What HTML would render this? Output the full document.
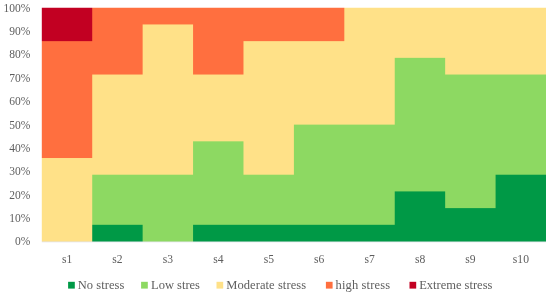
<!DOCTYPE html>
<html><head><meta charset="utf-8"><title>Stress chart</title>
<style>
html,body{margin:0;padding:0;background:#fff;}
body{width:550px;height:295px;overflow:hidden;position:relative;font-family:"Liberation Serif",serif;color:#595959;}
svg{position:absolute;left:0;top:0;display:block;}
text{font-family:"Liberation Serif",serif;fill:#5e5e5e;}
.y{font-size:11.5px;text-anchor:end;}
.x{font-size:11.6px;text-anchor:middle;}
.l{font-size:12.5px;}
</style></head><body>
<svg width="550" height="295" viewBox="0 0 550 295">
<rect x="0" y="0" width="550" height="295" fill="#ffffff"/>
<g shape-rendering="crispEdges">
<rect x="41" y="7" width="1" height="1" fill="#FCF2F4"/>
<rect x="41" y="8" width="1" height="33" fill="#F3CCD3"/>
<rect x="41" y="41" width="1" height="1" fill="#FDDFD8"/>
<rect x="41" y="42" width="1" height="116" fill="#FFE2D9"/>
<rect x="41" y="158" width="1" height="83" fill="#FFF9E7"/>
<rect x="41" y="241" width="1" height="1" fill="#FCF9F1"/>
<rect x="41" y="242" width="1" height="1" fill="#FDFDFE"/>
<rect x="42" y="7" width="50" height="1" fill="#F0BFC8"/>
<rect x="42" y="8" width="50" height="33" fill="#C20022"/>
<rect x="42" y="41" width="50" height="1" fill="#F65F3B"/>
<rect x="42" y="42" width="50" height="116" fill="#FF6F3F"/>
<rect x="42" y="158" width="50" height="1" fill="#FFDF87"/>
<rect x="42" y="159" width="50" height="82" fill="#FFE188"/>
<rect x="42" y="241" width="50" height="1" fill="#F0E2B9"/>
<rect x="42" y="242" width="50" height="1" fill="#F6F6F9"/>
<rect x="92" y="7" width="1" height="1" fill="#FCD5CD"/>
<rect x="92" y="8" width="1" height="33" fill="#F25739"/>
<rect x="92" y="41" width="1" height="1" fill="#FD6C3E"/>
<rect x="92" y="42" width="1" height="32" fill="#FF6F3F"/>
<rect x="92" y="74" width="1" height="1" fill="#FF9859"/>
<rect x="92" y="75" width="1" height="83" fill="#FFC878"/>
<rect x="92" y="158" width="1" height="16" fill="#FFE188"/>
<rect x="92" y="174" width="1" height="1" fill="#E6DF80"/>
<rect x="92" y="175" width="1" height="49" fill="#A6DB6A"/>
<rect x="92" y="224" width="1" height="1" fill="#90D166"/>
<rect x="92" y="225" width="1" height="16" fill="#38A955"/>
<rect x="92" y="241" width="1" height="1" fill="#8DC59F"/>
<rect x="92" y="242" width="1" height="1" fill="#F6F6F9"/>
<rect x="93" y="7" width="49" height="1" fill="#FFDBCF"/>
<rect x="93" y="8" width="49" height="66" fill="#FF6F3F"/>
<rect x="93" y="74" width="49" height="1" fill="#FFA461"/>
<rect x="93" y="75" width="49" height="99" fill="#FFE188"/>
<rect x="93" y="174" width="49" height="1" fill="#DEDF7D"/>
<rect x="93" y="175" width="49" height="49" fill="#8DD962"/>
<rect x="93" y="224" width="49" height="1" fill="#71CC5D"/>
<rect x="93" y="225" width="49" height="16" fill="#009946"/>
<rect x="93" y="241" width="49" height="1" fill="#71BE98"/>
<rect x="93" y="242" width="49" height="1" fill="#F6F6F9"/>
<rect x="142" y="7" width="1" height="1" fill="#FFDBCF"/>
<rect x="142" y="8" width="1" height="16" fill="#FF6F3F"/>
<rect x="142" y="24" width="1" height="1" fill="#FF864E"/>
<rect x="142" y="25" width="1" height="49" fill="#FF9859"/>
<rect x="142" y="74" width="1" height="1" fill="#FFBA6F"/>
<rect x="142" y="75" width="1" height="99" fill="#FFE188"/>
<rect x="142" y="174" width="1" height="1" fill="#DEDF7D"/>
<rect x="142" y="175" width="1" height="49" fill="#8DD962"/>
<rect x="142" y="224" width="1" height="1" fill="#7BD15E"/>
<rect x="142" y="225" width="1" height="16" fill="#33B050"/>
<rect x="142" y="241" width="1" height="1" fill="#8AC99D"/>
<rect x="142" y="242" width="1" height="1" fill="#F6F6F9"/>
<rect x="143" y="7" width="50" height="1" fill="#FFDBCF"/>
<rect x="143" y="8" width="50" height="16" fill="#FF6F3F"/>
<rect x="143" y="24" width="50" height="1" fill="#FFAE67"/>
<rect x="143" y="25" width="50" height="149" fill="#FFE188"/>
<rect x="143" y="174" width="50" height="1" fill="#DEDF7D"/>
<rect x="143" y="175" width="50" height="66" fill="#8DD962"/>
<rect x="143" y="241" width="50" height="1" fill="#B8DEA6"/>
<rect x="143" y="242" width="50" height="1" fill="#F6F6F9"/>
<rect x="193" y="7" width="1" height="1" fill="#FFDBCF"/>
<rect x="193" y="8" width="1" height="16" fill="#FF6F3F"/>
<rect x="193" y="24" width="1" height="1" fill="#FF7341"/>
<rect x="193" y="25" width="1" height="49" fill="#FF7643"/>
<rect x="193" y="74" width="1" height="1" fill="#FFA863"/>
<rect x="193" y="75" width="1" height="66" fill="#FFE188"/>
<rect x="193" y="141" width="1" height="1" fill="#B6DC70"/>
<rect x="193" y="142" width="1" height="32" fill="#94D964"/>
<rect x="193" y="174" width="1" height="1" fill="#92D964"/>
<rect x="193" y="175" width="1" height="49" fill="#8DD962"/>
<rect x="193" y="224" width="1" height="1" fill="#73CD5D"/>
<rect x="193" y="225" width="1" height="16" fill="#089D48"/>
<rect x="193" y="241" width="1" height="1" fill="#75BF99"/>
<rect x="193" y="242" width="1" height="1" fill="#F6F6F9"/>
<rect x="194" y="7" width="49" height="1" fill="#FFDBCF"/>
<rect x="194" y="8" width="49" height="66" fill="#FF6F3F"/>
<rect x="194" y="74" width="49" height="1" fill="#FFA461"/>
<rect x="194" y="75" width="49" height="66" fill="#FFE188"/>
<rect x="194" y="141" width="49" height="1" fill="#B2DC6E"/>
<rect x="194" y="142" width="49" height="82" fill="#8DD962"/>
<rect x="194" y="224" width="49" height="1" fill="#71CC5D"/>
<rect x="194" y="225" width="49" height="16" fill="#009946"/>
<rect x="194" y="241" width="49" height="1" fill="#71BE98"/>
<rect x="194" y="242" width="49" height="1" fill="#F6F6F9"/>
<rect x="243" y="7" width="1" height="1" fill="#FFDBCF"/>
<rect x="243" y="8" width="1" height="33" fill="#FF6F3F"/>
<rect x="243" y="41" width="1" height="1" fill="#FFA260"/>
<rect x="243" y="42" width="1" height="32" fill="#FFAA65"/>
<rect x="243" y="74" width="1" height="1" fill="#FFC475"/>
<rect x="243" y="75" width="1" height="66" fill="#FFE188"/>
<rect x="243" y="141" width="1" height="1" fill="#DADE7C"/>
<rect x="243" y="142" width="1" height="32" fill="#C8DD76"/>
<rect x="243" y="174" width="1" height="1" fill="#B7DC70"/>
<rect x="243" y="175" width="1" height="49" fill="#8DD962"/>
<rect x="243" y="224" width="1" height="1" fill="#71CC5D"/>
<rect x="243" y="225" width="1" height="16" fill="#009946"/>
<rect x="243" y="241" width="1" height="1" fill="#71BE98"/>
<rect x="243" y="242" width="1" height="1" fill="#F6F6F9"/>
<rect x="244" y="7" width="49" height="1" fill="#FFDBCF"/>
<rect x="244" y="8" width="49" height="33" fill="#FF6F3F"/>
<rect x="244" y="41" width="49" height="1" fill="#FFD17E"/>
<rect x="244" y="42" width="49" height="132" fill="#FFE188"/>
<rect x="244" y="174" width="49" height="1" fill="#DEDF7D"/>
<rect x="244" y="175" width="49" height="49" fill="#8DD962"/>
<rect x="244" y="224" width="49" height="1" fill="#71CC5D"/>
<rect x="244" y="225" width="49" height="16" fill="#009946"/>
<rect x="244" y="241" width="49" height="1" fill="#71BE98"/>
<rect x="244" y="242" width="49" height="1" fill="#F6F6F9"/>
<rect x="293" y="7" width="1" height="1" fill="#FFDBCF"/>
<rect x="293" y="8" width="1" height="33" fill="#FF6F3F"/>
<rect x="293" y="41" width="1" height="1" fill="#FFD17E"/>
<rect x="293" y="42" width="1" height="82" fill="#FFE188"/>
<rect x="293" y="124" width="1" height="1" fill="#FBE187"/>
<rect x="293" y="125" width="1" height="49" fill="#F4E084"/>
<rect x="293" y="174" width="1" height="1" fill="#D6DE7A"/>
<rect x="293" y="175" width="1" height="49" fill="#8DD962"/>
<rect x="293" y="224" width="1" height="1" fill="#71CC5D"/>
<rect x="293" y="225" width="1" height="16" fill="#009946"/>
<rect x="293" y="241" width="1" height="1" fill="#71BE98"/>
<rect x="293" y="242" width="1" height="1" fill="#F6F6F9"/>
<rect x="294" y="7" width="50" height="1" fill="#FFDBCF"/>
<rect x="294" y="8" width="50" height="33" fill="#FF6F3F"/>
<rect x="294" y="41" width="50" height="1" fill="#FFD17E"/>
<rect x="294" y="42" width="50" height="82" fill="#FFE188"/>
<rect x="294" y="124" width="50" height="1" fill="#D4DE7A"/>
<rect x="294" y="125" width="50" height="99" fill="#8DD962"/>
<rect x="294" y="224" width="50" height="1" fill="#71CC5D"/>
<rect x="294" y="225" width="50" height="16" fill="#009946"/>
<rect x="294" y="241" width="50" height="1" fill="#71BE98"/>
<rect x="294" y="242" width="50" height="1" fill="#F6F6F9"/>
<rect x="344" y="7" width="1" height="1" fill="#FFEEDB"/>
<rect x="344" y="8" width="1" height="33" fill="#FFBD71"/>
<rect x="344" y="41" width="1" height="1" fill="#FFDC85"/>
<rect x="344" y="42" width="1" height="82" fill="#FFE188"/>
<rect x="344" y="124" width="1" height="1" fill="#D4DE7A"/>
<rect x="344" y="125" width="1" height="99" fill="#8DD962"/>
<rect x="344" y="224" width="1" height="1" fill="#71CC5D"/>
<rect x="344" y="225" width="1" height="16" fill="#009946"/>
<rect x="344" y="241" width="1" height="1" fill="#71BE98"/>
<rect x="344" y="242" width="1" height="1" fill="#F6F6F9"/>
<rect x="345" y="7" width="49" height="1" fill="#FFF8E1"/>
<rect x="345" y="8" width="49" height="116" fill="#FFE188"/>
<rect x="345" y="124" width="49" height="1" fill="#D4DE7A"/>
<rect x="345" y="125" width="49" height="99" fill="#8DD962"/>
<rect x="345" y="224" width="49" height="1" fill="#71CC5D"/>
<rect x="345" y="225" width="49" height="16" fill="#009946"/>
<rect x="345" y="241" width="49" height="1" fill="#71BE98"/>
<rect x="345" y="242" width="49" height="1" fill="#F6F6F9"/>
<rect x="394" y="7" width="1" height="1" fill="#FFF8E1"/>
<rect x="394" y="8" width="1" height="49" fill="#FFE188"/>
<rect x="394" y="57" width="1" height="1" fill="#FAE186"/>
<rect x="394" y="58" width="1" height="66" fill="#E1DF7E"/>
<rect x="394" y="124" width="1" height="1" fill="#C2DD74"/>
<rect x="394" y="125" width="1" height="66" fill="#8DD962"/>
<rect x="394" y="191" width="1" height="1" fill="#77CF5E"/>
<rect x="394" y="192" width="1" height="32" fill="#68C85B"/>
<rect x="394" y="224" width="1" height="1" fill="#54BF57"/>
<rect x="394" y="225" width="1" height="16" fill="#009946"/>
<rect x="394" y="241" width="1" height="1" fill="#71BE98"/>
<rect x="394" y="242" width="1" height="1" fill="#F6F6F9"/>
<rect x="395" y="7" width="50" height="1" fill="#FFF8E1"/>
<rect x="395" y="8" width="50" height="49" fill="#FFE188"/>
<rect x="395" y="57" width="50" height="1" fill="#EDE082"/>
<rect x="395" y="58" width="50" height="133" fill="#8DD962"/>
<rect x="395" y="191" width="50" height="1" fill="#3AB351"/>
<rect x="395" y="192" width="50" height="49" fill="#009946"/>
<rect x="395" y="241" width="50" height="1" fill="#71BE98"/>
<rect x="395" y="242" width="50" height="1" fill="#F6F6F9"/>
<rect x="445" y="7" width="1" height="1" fill="#FFF8E1"/>
<rect x="445" y="8" width="1" height="49" fill="#FFE188"/>
<rect x="445" y="57" width="1" height="1" fill="#FCE187"/>
<rect x="445" y="58" width="1" height="16" fill="#EDE082"/>
<rect x="445" y="74" width="1" height="1" fill="#C0DD73"/>
<rect x="445" y="75" width="1" height="116" fill="#8DD962"/>
<rect x="445" y="191" width="1" height="1" fill="#80D35F"/>
<rect x="445" y="192" width="1" height="16" fill="#76CF5E"/>
<rect x="445" y="208" width="1" height="1" fill="#0D9F49"/>
<rect x="445" y="209" width="1" height="32" fill="#009946"/>
<rect x="445" y="241" width="1" height="1" fill="#71BE98"/>
<rect x="445" y="242" width="1" height="1" fill="#F6F6F9"/>
<rect x="446" y="7" width="49" height="1" fill="#FFF8E1"/>
<rect x="446" y="8" width="49" height="66" fill="#FFE188"/>
<rect x="446" y="74" width="49" height="1" fill="#CADD76"/>
<rect x="446" y="75" width="49" height="133" fill="#8DD962"/>
<rect x="446" y="208" width="49" height="1" fill="#0FA049"/>
<rect x="446" y="209" width="49" height="32" fill="#009946"/>
<rect x="446" y="241" width="49" height="1" fill="#71BE98"/>
<rect x="446" y="242" width="49" height="1" fill="#F6F6F9"/>
<rect x="495" y="7" width="1" height="1" fill="#FFF8E1"/>
<rect x="495" y="8" width="1" height="66" fill="#FFE188"/>
<rect x="495" y="74" width="1" height="1" fill="#CADD76"/>
<rect x="495" y="75" width="1" height="99" fill="#8DD962"/>
<rect x="495" y="174" width="1" height="1" fill="#7CD15F"/>
<rect x="495" y="175" width="1" height="33" fill="#52BE56"/>
<rect x="495" y="208" width="1" height="1" fill="#099D48"/>
<rect x="495" y="209" width="1" height="32" fill="#009946"/>
<rect x="495" y="241" width="1" height="1" fill="#71BE98"/>
<rect x="495" y="242" width="1" height="1" fill="#F6F6F9"/>
<rect x="496" y="7" width="50" height="1" fill="#FFF8E1"/>
<rect x="496" y="8" width="50" height="66" fill="#FFE188"/>
<rect x="496" y="74" width="50" height="1" fill="#CADD76"/>
<rect x="496" y="75" width="50" height="99" fill="#8DD962"/>
<rect x="496" y="174" width="50" height="1" fill="#65C75A"/>
<rect x="496" y="175" width="50" height="66" fill="#009946"/>
<rect x="496" y="241" width="50" height="1" fill="#71BE98"/>
<rect x="496" y="242" width="50" height="1" fill="#F6F6F9"/>
</g>
<text class="y" x="30.3" y="245.40">0%</text>
<text class="y" x="30.3" y="222.03">10%</text>
<text class="y" x="30.3" y="198.65">20%</text>
<text class="y" x="30.3" y="175.28">30%</text>
<text class="y" x="30.3" y="151.90">40%</text>
<text class="y" x="30.3" y="128.53">50%</text>
<text class="y" x="30.3" y="105.15">60%</text>
<text class="y" x="30.3" y="81.78">70%</text>
<text class="y" x="30.3" y="58.40">80%</text>
<text class="y" x="30.3" y="35.02">90%</text>
<text class="y" x="30.3" y="11.65">100%</text>
<text class="x" x="67.11" y="262.7">s1</text>
<text class="x" x="117.53" y="262.7">s2</text>
<text class="x" x="167.95" y="262.7">s3</text>
<text class="x" x="218.37" y="262.7">s4</text>
<text class="x" x="268.79" y="262.7">s5</text>
<text class="x" x="319.21" y="262.7">s6</text>
<text class="x" x="369.63" y="262.7">s7</text>
<text class="x" x="420.05" y="262.7">s8</text>
<text class="x" x="470.47" y="262.7">s9</text>
<text class="x" x="520.89" y="262.7">s10</text>
<rect x="68.1" y="281.8" width="6.7" height="6.8" fill="#009946"/>
<text class="l" x="77.8" y="288.8" letter-spacing="0.05">No stress</text>
<rect x="141.1" y="281.8" width="6.7" height="6.8" fill="#8DD962"/>
<text class="l" x="151.0" y="288.8" letter-spacing="0">Low stres</text>
<rect x="216.5" y="281.8" width="6.7" height="6.8" fill="#FFE188"/>
<text class="l" x="226.2" y="288.8" letter-spacing="0.08">Moderate stress</text>
<rect x="325.9" y="281.8" width="6.7" height="6.8" fill="#FF6F3F"/>
<text class="l" x="335.6" y="288.8" letter-spacing="0.13">high stress</text>
<rect x="409.5" y="281.8" width="6.7" height="6.8" fill="#C20022"/>
<text class="l" x="419.15" y="288.8" letter-spacing="0">Extreme stress</text>
</svg></body></html>
